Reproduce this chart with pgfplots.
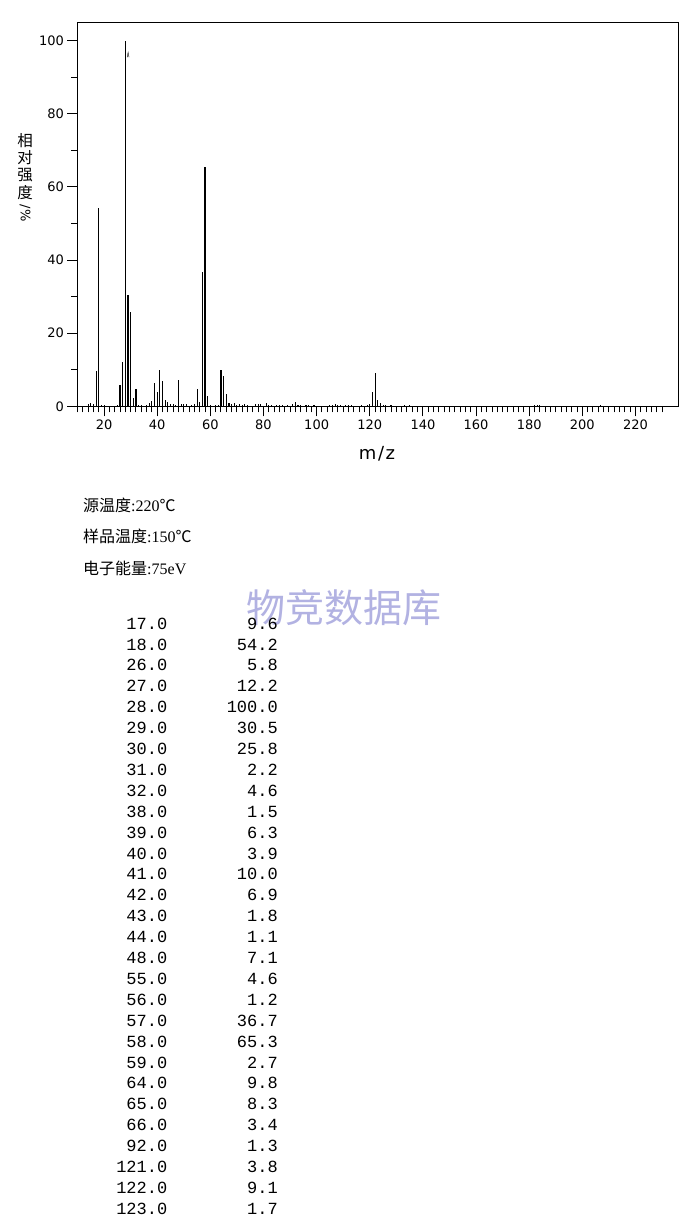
\documentclass[border=0pt]{standalone}
\usepackage{fontspec}
\setmainfont{DejaVu Sans}
\newfontfamily\cjk{Noto Sans CJK SC}
\newfontfamily\serif{Liberation Serif}
\newfontfamily\mono{Liberation Mono}
\usepackage{pgfplots}
\pgfplotsset{compat=1.18}
\definecolor{wmark}{RGB}{178,178,226}

% m/z, relative intensity (%)
\pgfplotstableread{
mz  int
14  0.5
15  0.8
16  0.6
17  9.6
18  54.2
19  0.4
20  0.4
25  0.4
26  5.8
27  12.2
28  100.0
29  30.5
30  25.8
31  2.2
32  4.6
33  0.4
34  0.4
36  0.4
37  0.8
38  1.5
39  6.3
40  3.9
41  10.0
42  6.9
43  1.8
44  1.1
45  0.6
46  0.5
47  0.4
48  7.1
49  0.5
50  0.6
51  0.5
53  0.4
54  0.5
55  4.6
56  1.2
57  36.7
58  65.3
59  2.7
60  0.3
62  0.3
63  0.3
64  9.8
65  8.3
66  3.4
67  0.8
68  0.5
69  0.9
70  0.4
71  0.6
72  0.4
73  0.5
74  0.3
77  0.6
78  0.6
79  0.6
81  0.8
82  0.3
83  0.3
85  0.4
86  0.3
87  0.3
89  0.3
91  0.6
92  1.3
93  0.4
94  0.3
96  0.3
97  0.4
99  0.3
105 0.4
106 0.3
107 0.6
108 0.3
109 0.4
111 0.3
112 0.4
113 0.3
117 0.3
119 0.4
120 0.6
121 3.8
122 9.1
123 1.7
124 0.9
125 0.4
126 0.3
128 0.3
133 0.3
135 0.3
182 0.3
183 0.3
184 0.3
207 0.3
}\spectrum

\begin{document}
\begin{tikzpicture}
\useasboundingbox (0pt,0pt) rectangle (687pt,-1216pt);
\begin{axis}[
    at={(77.5pt,-406.3pt)}, anchor=south west,
    scale only axis, width=600.5pt, height=384pt,
    xmin=10, xmax=236, ymin=0, ymax=105,
    xtick={20,40,...,220}, minor xtick={10,12,...,230},
    ytick={0,20,...,100}, minor ytick={10,30,...,90},
    tick pos=left, tick align=outside,
    major tick length=10pt, minor tick length=6pt,
    axis line style={line width=1pt},
    tick style={black, line width=1pt},
    tick label style={font=\fontsize{13}{13}\selectfont},
    /pgf/number format/assume math mode=true,
]
\addplot[ycomb, black, line width=1.1pt, mark=none] table[x=mz, y=int] {\spectrum};
\draw[black, line width=0.4pt] (axis cs:28.7,95.4) -- (axis cs:29.05,96.8) -- (axis cs:29.4,95.4);
\end{axis}

% y label, stacked
\begin{scope}[font=\cjk\fontsize{15.5}{15.5}\selectfont]
\node at (25pt,-140.5pt) {相};
\node at (25pt,-158pt) {对};
\node at (25pt,-175.5pt) {强};
\node at (25pt,-193pt) {度};
\end{scope}
\node[rotate=-90, font=\fontsize{13}{13}\selectfont] at (25pt,-213pt) {/\%};

\node[font=\fontsize{18}{18}\selectfont] at (377pt,-454pt) {m\kern1.5pt/\kern1.5pt z};

% acquisition conditions
\node[anchor=west, inner sep=0pt] at (83pt,-505pt) {\fontsize{16}{16}\selectfont\cjk 源温度\serif:220\cjk ℃};
\node[anchor=west, inner sep=0pt] at (83pt,-536pt) {\fontsize{16}{16}\selectfont\cjk 样品温度\serif:150\cjk ℃};
\node[anchor=west, inner sep=0pt] at (83pt,-568pt) {\fontsize{16}{16}\selectfont\cjk 电子能量\serif:75eV};

% watermark
\node[text=wmark, font=\cjk\fontsize{39}{39}\selectfont] at (343.5pt,-608pt) {物竞数据库};

% peak list
\foreach \m/\v [count=\k] in {17.0/9.6, 18.0/54.2, 26.0/5.8, 27.0/12.2, 28.0/100.0, 29.0/30.5,
    30.0/25.8, 31.0/2.2, 32.0/4.6, 38.0/1.5, 39.0/6.3, 40.0/3.9, 41.0/10.0, 42.0/6.9,
    43.0/1.8, 44.0/1.1, 48.0/7.1, 55.0/4.6, 56.0/1.2, 57.0/36.7, 58.0/65.3, 59.0/2.7,
    64.0/9.8, 65.0/8.3, 66.0/3.4, 92.0/1.3, 121.0/3.8, 122.0/9.1, 123.0/1.7} {
  \node[anchor=east, inner sep=0pt, font=\mono\fontsize{17}{17}\selectfont]
    at (167.5pt, {-623.5pt-(\k-1)*20.9pt}) {\m};
  \node[anchor=east, inner sep=0pt, font=\mono\fontsize{17}{17}\selectfont]
    at (278pt, {-623.5pt-(\k-1)*20.9pt}) {\v};
}
\end{tikzpicture}
\end{document}
